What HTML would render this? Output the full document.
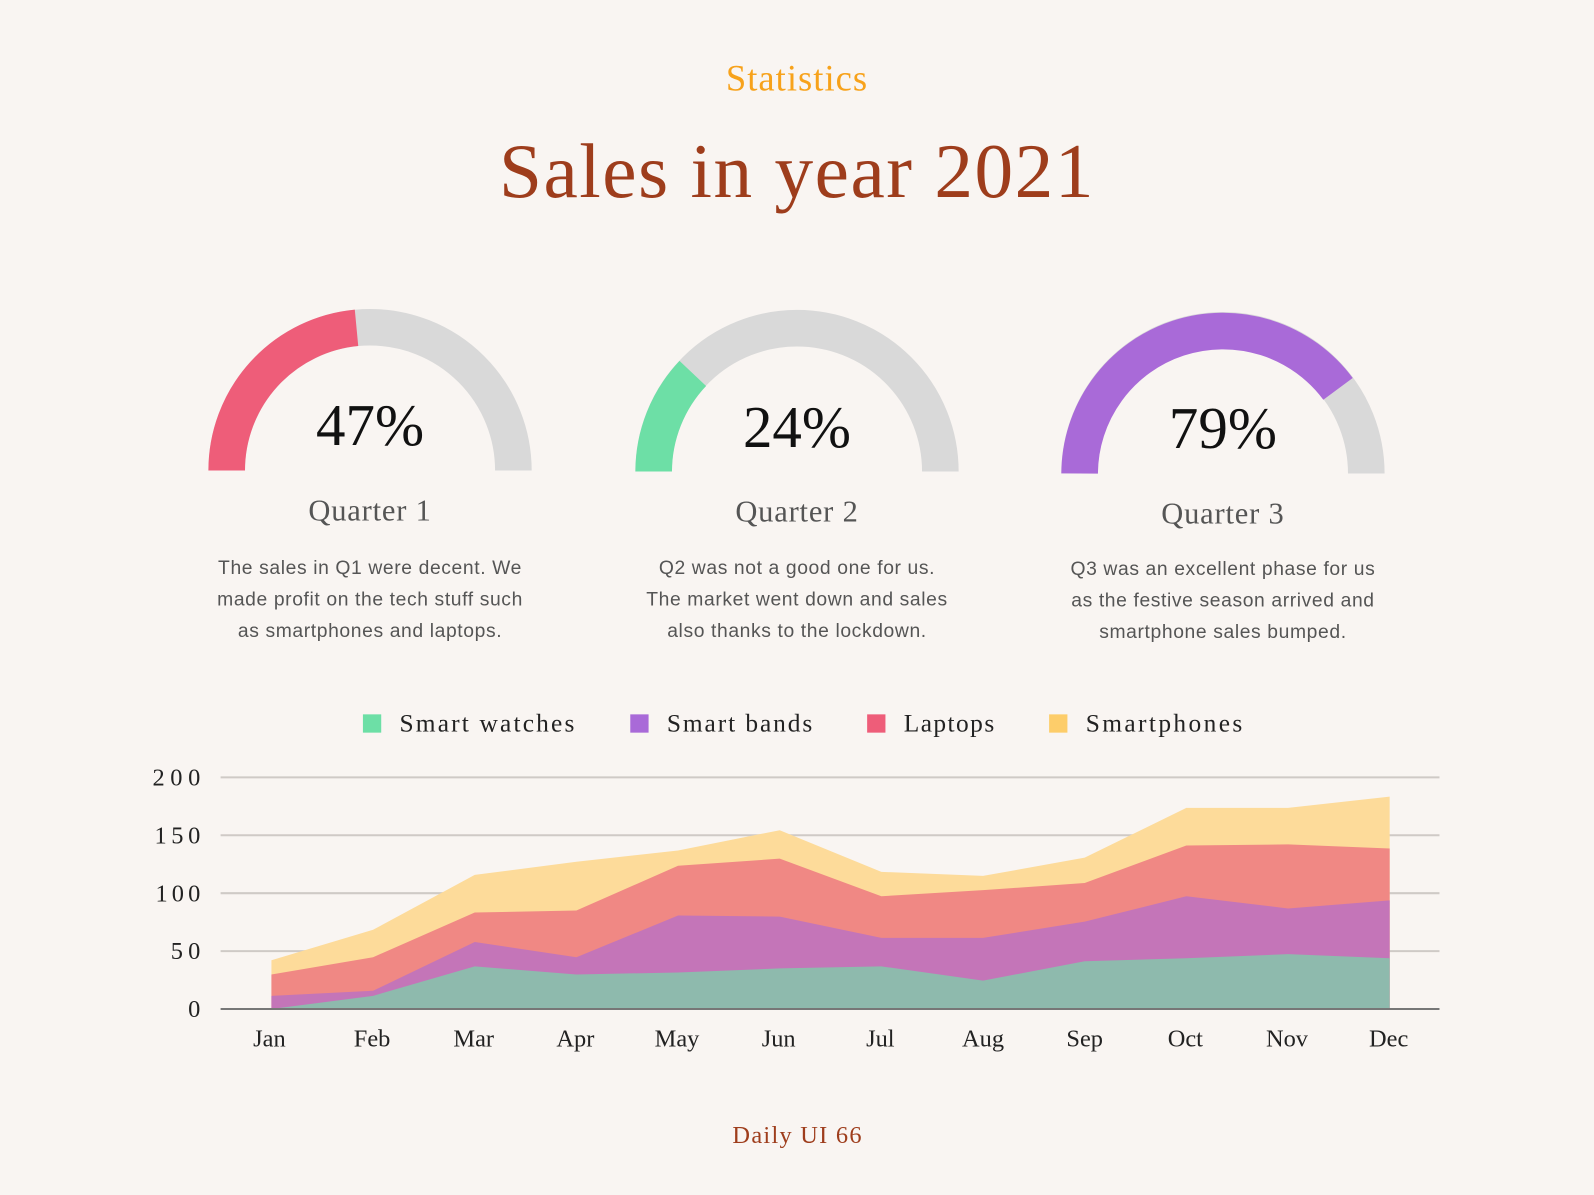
<!DOCTYPE html>
<html><head><meta charset="utf-8"><style>
html,body{margin:0;padding:0;background:#f9f5f2;}
svg{display:block}
.serif{font-family:"Liberation Serif","DejaVu Serif",serif}
.sans{font-family:"Liberation Sans","DejaVu Sans",sans-serif}
</style></head><body>
<svg width="1594" height="1195" viewBox="0 0 1568 1176" preserveAspectRatio="none" xmlns="http://www.w3.org/2000/svg">
<rect width="1568" height="1176" fill="#f9f5f2"/>
<text x="784" y="89" text-anchor="middle" class="serif" font-size="36" fill="#f7a21b" letter-spacing="1">Statistics</text>
<text x="784" y="194" text-anchor="middle" class="serif" font-size="76" fill="#9e3d1c" letter-spacing="1.5">Sales in year 2021</text>

<!-- gauges -->
<g fill="none" stroke-width="36">
<path d="M223,463 A141,141 0 0 1 505,463" stroke="#d9d9d9"/>
<path d="M223,463 A141,141 0 0 1 350.7,322.6" stroke="#ee5d79"/>
<path d="M643,464 A141,141 0 0 1 925,464" stroke="#d9d9d9"/>
<path d="M643,464 A141,141 0 0 1 681.5,367.5" stroke="#6ddfa6"/>
<path d="M1062,466 A141,141 0 0 1 1344,466" stroke="#d9d9d9"/>
<path d="M1062,466 A141,141 0 0 1 1316.2,382.7" stroke="#a96ad8"/>
</g>
<g class="serif" text-anchor="middle">
<text x="364" y="438" font-size="58" fill="#111">47%</text>
<text x="784" y="440" font-size="58" fill="#111">24%</text>
<text x="1203" y="441" font-size="58" fill="#111">79%</text>
<text x="364" y="512" font-size="30" fill="#555" letter-spacing="0.8">Quarter 1</text>
<text x="784" y="513" font-size="30" fill="#555" letter-spacing="0.8">Quarter 2</text>
<text x="1203" y="515" font-size="30" fill="#555" letter-spacing="0.8">Quarter 3</text>
</g>
<g class="sans" text-anchor="middle" font-size="19" fill="#555" letter-spacing="0.6">
<text x="364" y="565">The sales in Q1 were decent. We</text>
<text x="364" y="596">made profit on the tech stuff such</text>
<text x="364" y="627">as smartphones and laptops.</text>
<text x="784" y="565">Q2 was not a good one for us.</text>
<text x="784" y="596">The market went down and sales</text>
<text x="784" y="627">also thanks to the lockdown.</text>
<text x="1203" y="566">Q3 was an excellent phase for us</text>
<text x="1203" y="597">as the festive season arrived and</text>
<text x="1203" y="628">smartphone sales bumped.</text>
</g>

<!-- legend -->
<rect x="357" y="703" width="18" height="18" fill="#6ddfa6"/>
<rect x="620" y="703" width="18" height="18" fill="#a96ad8"/>
<rect x="853" y="703" width="18" height="18" fill="#ee5d79"/>
<rect x="1032" y="703" width="18" height="18" fill="#fdcd6a"/>
<g class="serif" font-size="25" fill="#222">
<text x="393" y="720" textLength="172" lengthAdjust="spacing">Smart watches</text>
<text x="656" y="720" textLength="143" lengthAdjust="spacing">Smart bands</text>
<text x="889" y="720" textLength="89" lengthAdjust="spacing">Laptops</text>
<text x="1068" y="720" textLength="154" lengthAdjust="spacing">Smartphones</text>
</g>

<!-- grid -->
<g stroke="#cfcac6" stroke-width="2">
<line x1="217" y1="765" x2="1416" y2="765"/>
<line x1="217" y1="822" x2="1416" y2="822"/>
<line x1="217" y1="879" x2="1416" y2="879"/>
<line x1="217" y1="936" x2="1416" y2="936"/>
</g>
<g class="serif" font-size="24" fill="#222" text-anchor="end">
<text x="197" y="773" textLength="47">200</text>
<text x="197" y="830" textLength="45">150</text>
<text x="197" y="887" textLength="44">100</text>
<text x="197" y="944" textLength="29">50</text>
<text x="197" y="1001">0</text>
</g>

<!-- areas -->
<polygon fill="#fddb9a" points="267,945 367,915 467,861 567,848 667,837 767,817 867,858 967,862 1067,844 1167,795 1267,795 1367,784 1367,993 267,993"/>
<polygon fill="#f08884" points="267,959 367,942 467,898 567,896 667,852 767,845 867,882 967,876 1067,869 1167,832 1267,831 1367,835 1367,993 267,993"/>
<polygon fill="#c475b8" points="267,980 367,975 467,927 567,942 667,901 767,902 867,923 967,923 1067,907 1167,882 1267,894 1367,886 1367,993 267,993"/>
<polygon fill="#8ebaad" points="267,993 367,980 467,951 567,959 667,957 767,953 867,951 967,965 1067,946 1167,943 1267,939 1367,943 1367,993 267,993"/>
<line x1="217" y1="993" x2="1416" y2="993" stroke="#777" stroke-width="2"/>

<g class="serif" font-size="24" fill="#222" text-anchor="middle">
<text x="265" y="1030">Jan</text><text x="366" y="1030">Feb</text><text x="466" y="1030">Mar</text>
<text x="566" y="1030">Apr</text><text x="666" y="1030">May</text><text x="766" y="1030">Jun</text>
<text x="866" y="1030">Jul</text><text x="967" y="1030">Aug</text><text x="1067" y="1030">Sep</text>
<text x="1166" y="1030">Oct</text><text x="1266" y="1030">Nov</text><text x="1366" y="1030">Dec</text>
</g>
<text x="784" y="1125" text-anchor="middle" class="serif" font-size="24" fill="#9e3d1c" textLength="127">Daily UI 66</text>
</svg>
</body></html>
